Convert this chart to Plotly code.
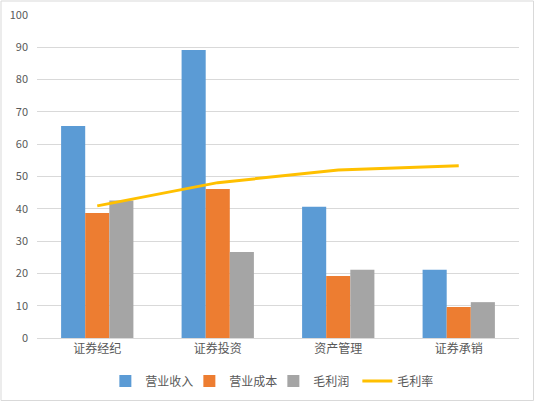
import plotly.graph_objects as go

categories = ["证券经纪", "证券投资", "资产管理", "证券承销"]
revenue = [65.6, 89.2, 40.6, 21.1]
cost = [38.7, 46.1, 19.2, 9.6]
gross_profit = [42.6, 26.6, 21.1, 11.1]
gross_margin = [40.9, 48.1, 52.0, 53.3]
y_ticks = [0, 10, 20, 30, 40, 50, 60, 70, 80, 90, 100]

font_family = "Noto Sans CJK SC, Microsoft YaHei, sans-serif"
text_color = "#595959"

fig = go.Figure()
fig.add_trace(go.Bar(x=categories, y=revenue, name="营业收入", marker_color="#5B9BD5", marker_line_width=0))
fig.add_trace(go.Bar(x=categories, y=cost, name="营业成本", marker_color="#ED7D31", marker_line_width=0))
fig.add_trace(go.Bar(x=categories, y=gross_profit, name="毛利润", marker_color="#A5A5A5", marker_line_width=0))
fig.add_trace(go.Scatter(x=categories, y=gross_margin, name="毛利率", mode="lines",
                         line=dict(color="#FFC000", width=3)))

L, R, T, B = 37, 17, 15, 64
W, H = 536, 402
pw, ph = W - L - R, H - T - B

fig.update_layout(
    width=W, height=H,
    margin=dict(l=L, r=R, t=T, b=B, autoexpand=False),
    paper_bgcolor="white", plot_bgcolor="white",
    barmode="group", bargap=0.40, bargroupgap=0,
    font=dict(family=font_family, size=12, color=text_color),
    showlegend=True,
    legend=dict(orientation="h", xref="container", x=0.51, xanchor="center",
                yref="container", y=(H - 381) / H, yanchor="middle",
                font=dict(size=12, color=text_color), traceorder="normal", itemwidth=30,
                entrywidth=39, entrywidthmode="pixels"),
    xaxis=dict(showgrid=False, showline=True, linecolor="#D9D9D9", linewidth=1, automargin=False,
               ticks="", tickfont=dict(size=12, color=text_color)),
    yaxis=dict(range=[0, 100], tickvals=y_ticks, showgrid=True, gridcolor="#D9D9D9", gridwidth=1,
               zeroline=False, showline=False, ticks="", ticklabelstandoff=8, automargin=False,
               tickfont=dict(size=11, color=text_color)),
    shapes=[dict(type="rect", xref="paper", yref="paper",
                 x0=(1 - L) / pw, x1=(533.5 - L) / pw,
                 y0=(T + ph - 400.5) / ph, y1=(T + ph - 1) / ph,
                 line=dict(color="#D9D9D9", width=1), fillcolor="rgba(0,0,0,0)", layer="below")],
)

fig.write_html("out.html")
